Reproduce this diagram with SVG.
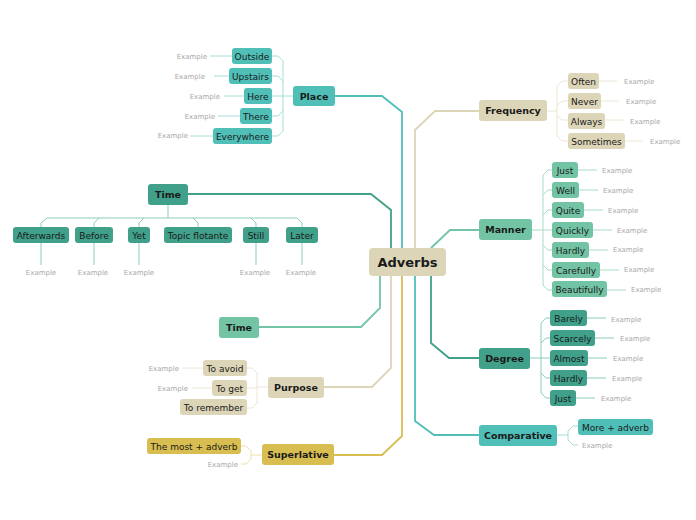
<svg xmlns="http://www.w3.org/2000/svg" width="696" height="520" viewBox="0 0 696 520">
<style>
text{font-family:"DejaVu Sans",Verdana,sans-serif;fill:#1a1a1a}
.m{font-size:9.5px;font-weight:bold;text-anchor:middle}
.c{font-size:9px;text-anchor:middle}
.e{font-size:7px;fill:#a8a8a8}
.er{font-size:7px;fill:#a8a8a8;text-anchor:end}
.ec{font-size:7px;fill:#a8a8a8;text-anchor:middle}
.teal{fill:#4fbfb8}.dg{fill:#40a08a}.mint{fill:#72c4a4}.bg{fill:#ddd5b8}.gold{fill:#d8be50}
path,line{fill:none}
</style>
<g id="connectors" stroke-width="1.8">
<path d="M335,96H382L402,112V248" stroke="#4fbfb8"/>
<path d="M187,194H371L391,210V248" stroke="#40a08a"/>
<path d="M259,327H361L380,308V276" stroke="#72c4a4"/>
<path d="M324,387H372L391,368V276" stroke="#ddd5b8"/>
<path d="M334,455H382L402,436V276" stroke="#d8be50"/>
<path d="M415,248V130L435,111H479" stroke="#ddd5b8"/>
<path d="M431,248L450,230H479" stroke="#72c4a4"/>
<path d="M431,276V343L449,358H479" stroke="#40a08a"/>
<path d="M415,276V421L434,435H479" stroke="#4fbfb8"/>
<g stroke-width="1">
<!-- Place -->
<g stroke="#a8dcd8"><path d="M293,96H283M272,56H278L283,61V131L278,136H272M272,76H278L283,81M272,96H283M272,116H278L283,111"/>
<path d="M210,56H232M214,76H229M224,96H244M218,116H240M190,136H213"/></g>
<!-- Time -->
<g stroke="#8ccdbb"><path d="M168,204V218M47,218H297M41,228V223L47,218M94,228V223L99,218M139,228V223L144,218M198,228V223L193,218M256,228V223L251,218M302,228V223L297,218"/>
<path d="M41,243V265M94,243V265M139,243V265M256,243V265M302,243V265"/></g>
<!-- Frequency -->
<g stroke="#ebe6d5"><path d="M547,111H557M568,81H562L557,86V136L562,141H568M568,101H562L557,106M568,120H562L557,116"/>
<path d="M599,81H617M601,101H619M605,120H624M625,141H643"/></g>
<!-- Manner -->
<g stroke="#aadcc8"><path d="M532,230H552M552,170H548L543,175V285L548,290H552M552,190H548L543,195M552,210H548L543,215M552,250H548L543,245M552,270H548L543,265"/>
<path d="M578,170H597M579,190H598M584,210H603M593,230H612M589,250H608M600,270H619M607,290H626"/></g>
<!-- Degree -->
<g stroke="#8ccdbb"><path d="M530,358H550M550,318H546L541,323V393L546,398H550M550,338H546L541,343M550,378H546L541,373"/>
<path d="M587,318H606M595,338H614M588,358H607M587,378H606M576,398H595"/></g>
<!-- Comparative -->
<g stroke="#a8dcd8"><path d="M557,435H568M578,426H573L568,431V440L573,445H578"/></g>
<!-- Purpose -->
<g stroke="#ebe6d5"><path d="M268,387H257M247,368H252L257,373V403L252,408H247M247,388H257"/>
<path d="M182,368H203M192,388H212"/></g>
<!-- Superlative -->
<g stroke="#ece0a8"><path d="M262,455H251M241,446H246L251,451V459L246,464H241"/></g>
</g>
</g>
<g id="n-adverbs"><rect x="369" y="248" width="77" height="28" rx="4" class="bg"/><text x="407.5" y="267" style="font-size:13px;font-weight:bold;text-anchor:middle">Adverbs</text></g>
<g id="n-place"><rect x="293" y="86" width="42" height="20" rx="3" class="teal"/><text class="m" x="314" y="99.5">Place</text></g>
<g id="n-place-kids">
<rect x="232" y="48" width="40" height="16" rx="3" class="teal"/><text class="c" x="252" y="59.5">Outside</text>
<rect x="229" y="68" width="43" height="16" rx="3" class="teal"/><text class="c" x="250.5" y="79.5">Upstairs</text>
<rect x="244" y="88" width="28" height="16" rx="3" class="teal"/><text class="c" x="258" y="99.5">Here</text>
<rect x="240" y="108" width="32" height="16" rx="3" class="teal"/><text class="c" x="256" y="119.5">There</text>
<rect x="213" y="128" width="59" height="16" rx="3" class="teal"/><text class="c" x="242.5" y="139.5">Everywhere</text>
<text class="er" x="207" y="59">Example</text><text class="er" x="205" y="79">Example</text><text class="er" x="220" y="99">Example</text><text class="er" x="215" y="119">Example</text><text class="er" x="188" y="138">Example</text>
</g>
<g id="n-time"><rect x="148" y="184" width="40" height="21" rx="3" class="dg"/><text class="m" x="168" y="198">Time</text></g>
<g id="n-time-kids">
<rect x="13" y="227" width="56" height="16" rx="3" class="dg"/><text class="c" x="41" y="238.5">Afterwards</text>
<rect x="75" y="227" width="38" height="16" rx="3" class="dg"/><text class="c" x="94" y="238.5">Before</text>
<rect x="128" y="227" width="22" height="16" rx="3" class="dg"/><text class="c" x="139" y="238.5">Yet</text>
<rect x="164" y="227" width="68" height="16" rx="3" class="dg"/><text class="c" x="198" y="238.5">Topic flotante</text>
<rect x="243" y="227" width="26" height="16" rx="3" class="dg"/><text class="c" x="256" y="238.5">Still</text>
<rect x="286" y="227" width="32" height="16" rx="3" class="dg"/><text class="c" x="302" y="238.5">Later</text>
<text class="ec" x="41" y="275">Example</text><text class="ec" x="93" y="275">Example</text><text class="ec" x="139" y="275">Example</text><text class="ec" x="255" y="275">Example</text><text class="ec" x="301" y="275">Example</text>
</g>
<g id="n-time2"><rect x="219" y="317" width="40" height="21" rx="3" class="mint"/><text class="m" x="239" y="331">Time</text></g>
<g id="n-purpose"><rect x="268" y="377" width="56" height="21" rx="3" class="bg"/><text class="m" x="296" y="391">Purpose</text></g>
<g id="n-purpose-kids">
<rect x="203" y="360" width="44" height="16" rx="3" class="bg"/><text class="c" x="225" y="371.5">To avoid</text>
<rect x="212" y="380" width="35" height="16" rx="3" class="bg"/><text class="c" x="229.5" y="391.5">To get</text>
<rect x="180" y="399" width="67" height="16" rx="3" class="bg"/><text class="c" x="213.5" y="410.5">To remember</text>
<text class="er" x="179" y="371">Example</text><text class="er" x="188" y="391">Example</text>
</g>
<g id="n-superlative"><rect x="262" y="444" width="72" height="21" rx="3" class="gold"/><text class="m" x="298" y="458">Superlative</text></g>
<g id="n-superlative-kids">
<rect x="147" y="438" width="94" height="16" rx="3" class="gold"/><text class="c" x="194" y="449.5">The most + adverb</text>
<text class="er" x="238" y="467">Example</text>
</g>
<g id="n-frequency"><rect x="479" y="100" width="68" height="21" rx="3" class="bg"/><text class="m" x="513" y="114">Frequency</text></g>
<g id="n-frequency-kids">
<rect x="568" y="73" width="31" height="16" rx="3" class="bg"/><text class="c" x="583.5" y="84.5">Often</text>
<rect x="568" y="93" width="33" height="16" rx="3" class="bg"/><text class="c" x="584.5" y="104.5">Never</text>
<rect x="568" y="113" width="37" height="16" rx="3" class="bg"/><text class="c" x="586.5" y="124.5">Always</text>
<rect x="568" y="133" width="57" height="16" rx="3" class="bg"/><text class="c" x="596.5" y="144.5">Sometimes</text>
<text class="e" x="624" y="84">Example</text><text class="e" x="626" y="104">Example</text><text class="e" x="630" y="124">Example</text><text class="e" x="650" y="144">Example</text>
</g>
<g id="n-manner"><rect x="479" y="219" width="53" height="21" rx="3" class="mint"/><text class="m" x="505.5" y="233">Manner</text></g>
<g id="n-manner-kids">
<rect x="552" y="162" width="26" height="16" rx="3" class="mint"/><text class="c" x="565" y="173.5">Just</text>
<rect x="552" y="182" width="27" height="16" rx="3" class="mint"/><text class="c" x="565.5" y="193.5">Well</text>
<rect x="552" y="202" width="32" height="16" rx="3" class="mint"/><text class="c" x="568" y="213.5">Quite</text>
<rect x="552" y="222" width="41" height="16" rx="3" class="mint"/><text class="c" x="572.5" y="233.5">Quickly</text>
<rect x="552" y="242" width="37" height="16" rx="3" class="mint"/><text class="c" x="570.5" y="253.5">Hardly</text>
<rect x="552" y="262" width="48" height="16" rx="3" class="mint"/><text class="c" x="576" y="273.5">Carefully</text>
<rect x="552" y="281" width="55" height="16" rx="3" class="mint"/><text class="c" x="579.5" y="292.5">Beautifully</text>
<text class="e" x="602" y="173">Example</text><text class="e" x="603" y="193">Example</text><text class="e" x="608" y="213">Example</text><text class="e" x="617" y="233">Example</text><text class="e" x="613" y="252">Example</text><text class="e" x="624" y="272">Example</text><text class="e" x="631" y="292">Example</text>
</g>
<g id="n-degree"><rect x="479" y="348" width="51" height="21" rx="3" class="dg"/><text class="m" x="504.5" y="362">Degree</text></g>
<g id="n-degree-kids">
<rect x="550" y="310" width="37" height="16" rx="3" class="dg"/><text class="c" x="568.5" y="321.5">Barely</text>
<rect x="550" y="330" width="45" height="16" rx="3" class="dg"/><text class="c" x="572.5" y="341.5">Scarcely</text>
<rect x="550" y="350" width="38" height="16" rx="3" class="dg"/><text class="c" x="569" y="361.5">Almost</text>
<rect x="550" y="370" width="37" height="16" rx="3" class="dg"/><text class="c" x="568.5" y="381.5">Hardly</text>
<rect x="550" y="390" width="26" height="16" rx="3" class="dg"/><text class="c" x="563" y="401.5">Just</text>
<text class="e" x="611" y="322">Example</text><text class="e" x="620" y="341">Example</text><text class="e" x="613" y="361">Example</text><text class="e" x="612" y="381">Example</text><text class="e" x="601" y="401">Example</text>
</g>
<g id="n-comparative"><rect x="479" y="425" width="78" height="21" rx="3" class="teal"/><text class="m" x="518" y="439">Comparative</text></g>
<g id="n-comparative-kids">
<rect x="578" y="419" width="75" height="16" rx="3" class="teal"/><text class="c" x="615.5" y="430.5">More + adverb</text>
<text class="e" x="582" y="448">Example</text>
</g>
</svg>
